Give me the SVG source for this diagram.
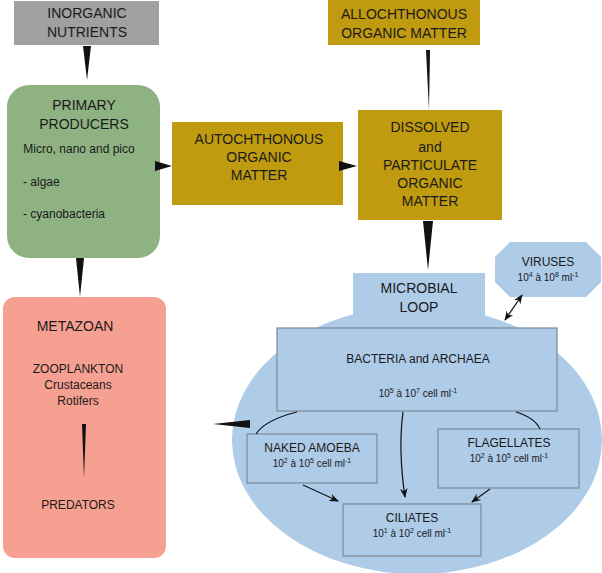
<svg xmlns="http://www.w3.org/2000/svg" width="602" height="573" viewBox="0 0 602 573">
<style>
text{font-family:"Liberation Sans",Arial,sans-serif;fill:#1a1a1a;text-anchor:middle}
.b{font-size:14px}.s{font-size:12px}.x{font-size:10px}
.gold{fill:#c09a0f}.inner{fill:#aecbe8;stroke:#7d8a96;stroke-width:1.2}
.w{fill:#111}.ln{fill:none;stroke:#111;stroke-width:1.2}
</style>
<defs><marker id="ah" viewBox="0 0 10 10" refX="9" refY="5" markerWidth="8" markerHeight="8" orient="auto-start-reverse"><path d="M0,1 L10,5 L0,9 L3,5z" fill="#111"/></marker></defs>
<rect x="0" y="0" width="602" height="573" fill="#fff"/>
<g id="loop-bg"><ellipse cx="417" cy="440" rx="185" ry="134" fill="#aecbe8"/><rect x="353" y="273" width="132" height="45" fill="#aecbe8"/>
<text class="b" x="419" y="293">MICROBIAL</text><text class="b" x="419" y="312">LOOP</text></g>
<g id="inorganic"><rect x="14" y="1" width="145" height="44" fill="#a0a0a0"/><text class="b" x="87" y="18">INORGANIC</text><text class="b" x="87" y="37">NUTRIENTS</text></g>
<g id="primary"><rect x="7" y="85" width="153" height="173" rx="22" fill="#8fb283"/>
<text class="b" x="84" y="110">PRIMARY</text><text class="b" x="84" y="129">PRODUCERS</text>
<text class="s" x="79" y="153">Micro, nano and pico</text>
<text class="s" x="23" y="186" style="text-anchor:start">- algae</text><text class="s" x="23" y="218" style="text-anchor:start">- cyanobacteria</text></g>
<g id="metazoan"><rect x="3" y="297" width="163" height="261" rx="12" fill="#f6a091"/>
<text class="b" x="75" y="331">METAZOAN</text><text class="s" x="78" y="373">ZOOPLANKTON</text><text class="s" x="78" y="389">Crustaceans</text><text class="s" x="78" y="405">Rotifers</text>
<text class="s" x="78" y="509">PREDATORS</text></g>
<g id="autoch"><rect class="gold" x="172" y="122" width="171" height="83"/><text class="b" x="259" y="144">AUTOCHTHONOUS</text><text class="b" x="259" y="162">ORGANIC</text><text class="b" x="259" y="180">MATTER</text></g>
<g id="alloch"><rect class="gold" x="328" y="0" width="152" height="45"/><text class="b" x="404" y="19">ALLOCHTHONOUS</text><text class="b" x="404" y="38">ORGANIC MATTER</text></g>
<g id="dissolved"><rect class="gold" x="358" y="110" width="144" height="110"/><text class="b" x="430" y="132">DISSOLVED</text><text class="b" x="430" y="152">and</text><text class="b" x="430" y="170">PARTICULATE</text><text class="b" x="430" y="188">ORGANIC</text><text class="b" x="430" y="206">MATTER</text></g>
<g id="viruses"><polygon points="510,242 586,242 601,257 601,282 586,297 510,297 495,282 495,257" fill="#aecbe8"/><text class="s" x="548" y="266">VIRUSES</text><text class="x" x="548" y="281">10<tspan font-size="7" dy="-4">4</tspan><tspan dy="4"> à 10</tspan><tspan font-size="7" dy="-4">8</tspan><tspan dy="4"> ml</tspan><tspan font-size="7" dy="-4">-1</tspan></text></g>
<g id="bacteria"><rect class="inner" x="277" y="328" width="280" height="83"/><text class="s" x="418" y="363">BACTERIA and ARCHAEA</text><text class="x" x="418" y="397">10<tspan font-size="7" dy="-4">5</tspan><tspan dy="4"> à 10</tspan><tspan font-size="7" dy="-4">7</tspan><tspan dy="4"> cell ml</tspan><tspan font-size="7" dy="-4">-1</tspan></text></g>
<g id="amoeba"><rect class="inner" x="247" y="434" width="130" height="49"/><text class="s" x="312" y="452">NAKED AMOEBA</text><text class="x" x="312" y="467">10<tspan font-size="7" dy="-4">2</tspan><tspan dy="4"> à 10</tspan><tspan font-size="7" dy="-4">5</tspan><tspan dy="4"> cell ml</tspan><tspan font-size="7" dy="-4">-1</tspan></text></g>
<g id="flagellates"><rect class="inner" x="438" y="429" width="141" height="59"/><text class="s" x="509" y="447">FLAGELLATES</text><text class="x" x="509" y="462">10<tspan font-size="7" dy="-4">2</tspan><tspan dy="4"> à 10</tspan><tspan font-size="7" dy="-4">5</tspan><tspan dy="4"> cell ml</tspan><tspan font-size="7" dy="-4">-1</tspan></text></g>
<g id="ciliates"><rect class="inner" x="343" y="504" width="138" height="52"/><text class="s" x="412" y="522">CILIATES</text><text class="x" x="412" y="537">10<tspan font-size="7" dy="-4">1</tspan><tspan dy="4"> à 10</tspan><tspan font-size="7" dy="-4">2</tspan><tspan dy="4"> cell ml</tspan><tspan font-size="7" dy="-4">-1</tspan></text></g>
<g id="connectors">
<polygon class="w" points="83,46 91,46 87,80"/>
<polygon class="w" points="76,258 84,258 80,297"/>
<polygon class="w" points="155,161 172,166 155,171"/>
<polygon class="w" points="339,161 357,166 339,171"/>
<polygon class="w" points="426,50 430,50 429,110"/>
<polygon class="w" points="423,221 433,221 428,270"/>
<polygon class="w" points="250,420 213,424 250,428"/>
<polygon class="w" points="82,424 86,424 84,478"/>
<line class="ln" x1="505" y1="320" x2="522" y2="295" marker-start="url(#ah)" marker-end="url(#ah)"/>
<path class="ln" d="M297,412 Q265,420 256,434"/>
<path class="ln" d="M403,412 Q398,450 405,497" marker-end="url(#ah)"/>
<path class="ln" d="M516,412 Q535,418 540,429"/>
<line class="ln" x1="303" y1="485" x2="338" y2="501" marker-end="url(#ah)"/>
<line class="ln" x1="490" y1="489" x2="472" y2="502" marker-end="url(#ah)"/>
</g>
</svg>
